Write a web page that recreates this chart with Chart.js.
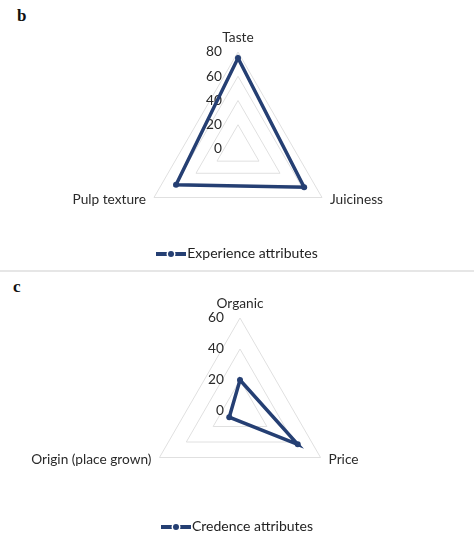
<!DOCTYPE html>
<html>
<head>
<meta charset="utf-8">
<script src="https://cdn.jsdelivr.net/npm/chart.js@4"></script>
<style>
  html, body { margin: 0; padding: 0; background: #fff; }
  body { width: 474px; height: 548px; position: relative; overflow: hidden; font-family: Lato, "Open Sans", sans-serif; }
  .panel { position: absolute; left: 0; width: 474px; }
  .tag { position: absolute; font: bold 17px "Liberation Serif", serif; color: #111; }
  .sep { position: absolute; left: 0; top: 270px; width: 474px; height: 2px; background: #e6e6e6; }
  .legend { position: absolute; left: 0; width: 474px; text-align: center; font-size: 14px; color: #222; }
  .legend .mark { display: inline-block; position: relative; width: 30px; height: 4px; background: #253f73; vertical-align: middle; margin-right: 1px; }
  .legend .mark::after { content: ""; position: absolute; left: 12px; top: -1.5px; width: 6px; height: 6px; border-radius: 50%; background: #253f73; box-shadow: 0 0 0 1.5px #fff; }
</style>
</head>
<body>
<div class="tag" style="left:17px;top:6px">b</div>
<div class="panel" style="top:0;height:270px"><canvas id="expChart"></canvas></div>
<div class="legend" style="top:244px"><span class="mark"></span>Experience attributes</div>
<div class="sep"></div>
<div class="tag" style="left:13px;top:277px">c</div>
<div class="panel" style="top:272px;height:276px"><canvas id="credChart"></canvas></div>
<div class="legend" style="top:517px"><span class="mark"></span>Credence attributes</div>
<script>
  // panel b
  const expLabels = ['Taste', 'Juiciness', 'Pulp texture'];
  const expValues = [75, 63, 59];
  const expTicks = [0, 20, 40, 60, 80];

  // panel c
  const credLabels = ['Organic', 'Price', 'Origin (place grown)'];
  const credValues = [20, 43, 8];
  const credTicks = [0, 20, 40, 60];

  const lineColor = '#253f73';
  const gridColor = '#e0e0e0';
  const textColor = '#2a2a2a';
  const font = '13.7px Lato, "Open Sans", sans-serif';

  // tick labels sit left of the vertical axis, point labels hug the outer vertices
  const labelPlugin = {
    id: 'radarText',
    beforeDatasetsDraw(chart) {
      const scale = chart.scales.r;
      const ctx = chart.ctx;
      ctx.save();
      ctx.font = font;
      ctx.fillStyle = textColor;
      ctx.textBaseline = 'middle';
      ctx.textAlign = 'right';
      chart.options.tickValues.forEach(function (v) {
        const y = scale.yCenter - scale.getDistanceFromCenterForValue(v);
        ctx.fillText(String(v), scale.xCenter - 16, y);
      });
      chart.data.labels.forEach(function (lbl, i) {
        const p = scale.getPointPosition(i, scale.drawingArea);
        if (i === 0) {
          ctx.textAlign = 'center';
          ctx.fillText(lbl, p.x, p.y - 14);
        } else if (p.x > scale.xCenter) {
          ctx.textAlign = 'left';
          ctx.fillText(lbl, p.x + 8, p.y + 2);
        } else {
          ctx.textAlign = 'right';
          ctx.fillText(lbl, p.x - 8, p.y + 2);
        }
      });
      ctx.restore();
    }
  };

  function makeRadar(id, labels, values, ticks, name, padding) {
    return new Chart(document.getElementById(id), {
      type: 'radar',
      data: {
        labels: labels,
        datasets: [{
          label: name,
          data: values,
          borderColor: lineColor,
          backgroundColor: lineColor,
          borderWidth: 3.5,
          fill: false,
          pointRadius: 3,
          pointBorderWidth: 0,
          pointBackgroundColor: lineColor,
          tension: 0,
        }]
      },
      options: {
        responsive: true,
        maintainAspectRatio: false,
        animation: false,
        tickValues: ticks,
        layout: { padding: padding },
        scales: {
          r: {
            min: ticks[0],
            max: ticks[ticks.length - 1],
            ticks: { display: false, stepSize: 20 },
            pointLabels: { display: false },
            angleLines: { display: false },
            grid: { color: gridColor, lineWidth: 1 }
          }
        },
        plugins: { legend: { display: false }, tooltip: { enabled: false } }
      },
      plugins: [labelPlugin]
    });
  }

  makeRadar('expChart', expLabels, expValues, expTicks, 'Experience attributes',
    { left: 141, right: 138, top: 52, bottom: 23 });
  makeRadar('credChart', credLabels, credValues, credTicks, 'Credence attributes',
    { left: 147, right: 141, top: 46, bottom: 44 });
</script>
</body>
</html>
